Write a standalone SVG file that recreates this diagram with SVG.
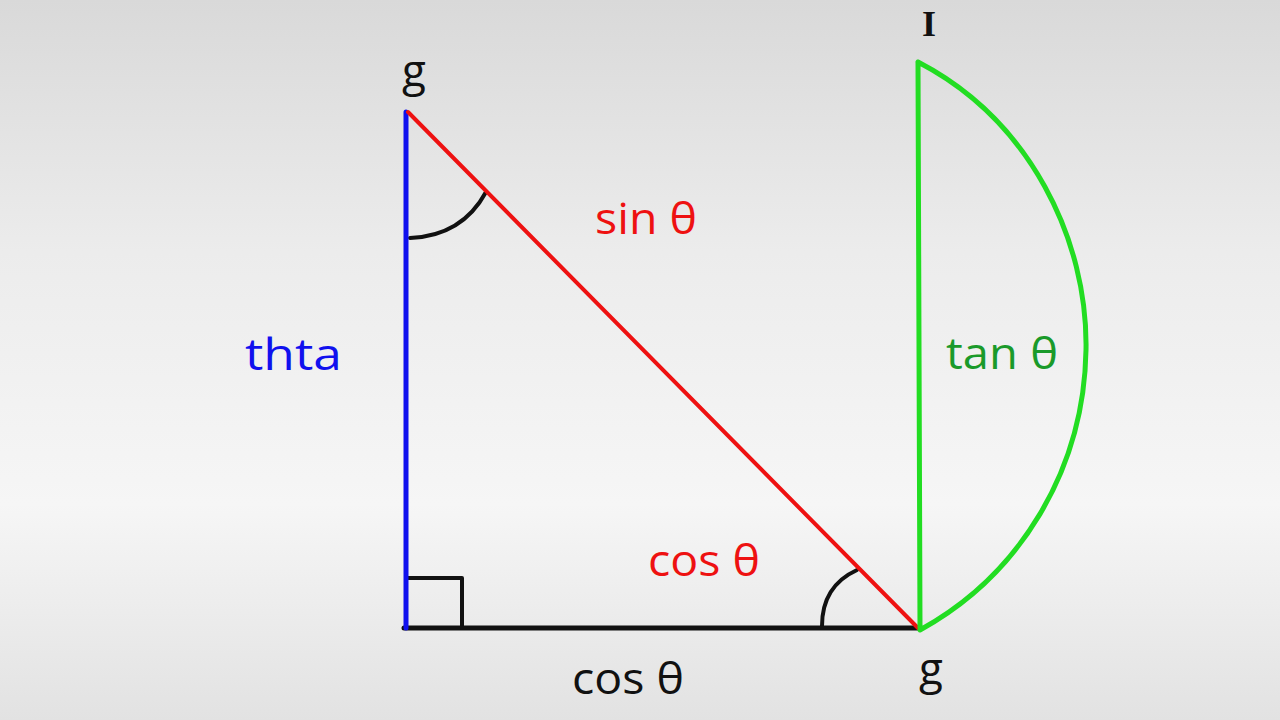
<svg xmlns="http://www.w3.org/2000/svg" width="1280" height="720" viewBox="0 0 1280 720">
<defs>
<linearGradient id="bg" x1="0" y1="0" x2="0" y2="1">
<stop offset="0" stop-color="#d9d9d9"/>
<stop offset="0.35" stop-color="#ececec"/>
<stop offset="0.7" stop-color="#f6f6f6"/>
<stop offset="1" stop-color="#e2e2e2"/>
</linearGradient>
<style>
.lbl{font-family:"Open Sans","Noto Sans",sans-serif;font-size:44px}
.pt{font-family:"Open Sans","Noto Sans",sans-serif;font-size:44px;fill:#111}
.ln{fill:none;stroke-linecap:round;stroke-linejoin:round}
</style>
</defs>
<rect width="1280" height="720" fill="url(#bg)"/>
<g id="edges">
<path class="ln" d="M406,628 H462 V578 H406" stroke="#111" stroke-width="4"/>
<path class="ln" d="M410,238 Q462,236 486,192" stroke="#111" stroke-width="4"/>
<path class="ln" d="M822,626 Q822,586 857,570" stroke="#111" stroke-width="4"/>
<line class="ln" x1="404" y1="628" x2="918" y2="628" stroke="#111" stroke-width="5"/>
<line class="ln" x1="406" y1="112" x2="406" y2="628" stroke="#1010ee" stroke-width="5"/>
<line class="ln" x1="408" y1="112" x2="918" y2="628" stroke="#ee1111" stroke-width="4"/>
<path class="ln" d="M918,62 L920,628 M918,62 C1030,120 1088,240 1086,350 C1084,470 1020,575 920,630" stroke="#22dd22" stroke-width="5"/>
</g>
<g id="label-sin"><text class="lbl" x="595" y="234" fill="#ee1111" textLength="102" lengthAdjust="spacingAndGlyphs">sin θ</text></g>
<g id="label-thta"><text class="lbl" x="245" y="370" fill="#1010ee" font-size="46" textLength="97" lengthAdjust="spacingAndGlyphs">thta</text></g>
<g id="label-tan"><text class="lbl" x="946" y="369" fill="#1a9a2a" textLength="112" lengthAdjust="spacingAndGlyphs">tan θ</text></g>
<g id="label-cos-red"><text class="lbl" x="648" y="576" fill="#ee1111" textLength="112" lengthAdjust="spacingAndGlyphs">cos θ</text></g>
<g id="label-cos-black"><text class="lbl" x="572" y="694" fill="#111" textLength="112" lengthAdjust="spacingAndGlyphs">cos θ</text></g>
<g id="point-top"><text class="pt" x="402" y="86">g</text></g>
<g id="point-bottom"><text class="pt" x="919" y="684">g</text></g>
<g id="point-I"><text x="929" y="36" text-anchor="middle" font-family="Liberation Serif,serif" font-size="36" font-weight="bold" fill="#111">I</text></g>
</svg>
